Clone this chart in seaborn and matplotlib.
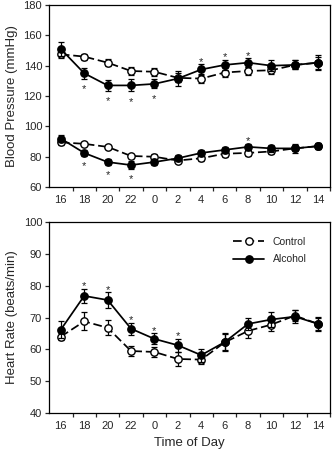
import numpy as np
import pandas as pd
import matplotlib
matplotlib.use("Agg")
import matplotlib.pyplot as plt
import seaborn as sns

# time of day labels (2 h bins)
times = ['16', '18', '20', '22', '0', '2', '4', '6', '8', '10', '12', '14']

# blood pressure, systolic
sys_ctrl = [147.5, 146, 142, 136.5, 136, 132, 131.5, 135.5, 136.5, 137, 140.5, 142]
sys_ctrl_se = [2.5, 2, 2.5, 2.5, 2.5, 3, 3, 3, 2.5, 2.5, 3, 4]
sys_alc = [151, 135, 127, 127, 128, 131.5, 137.5, 140.5, 142, 140, 140.5, 142]
sys_alc_se = [4.5, 3.5, 3.5, 4, 3, 5, 3.5, 3.5, 3, 3.5, 3, 5]
# blood pressure, diastolic
dia_ctrl = [89.5, 88.5, 86.5, 80.5, 80, 77.5, 79, 82, 82.5, 83.5, 85.5, 87]
dia_ctrl_se = [2, 1.5, 1.5, 1.5, 2, 1.5, 2, 2, 2, 2, 2, 2]
dia_alc = [92, 82.5, 76.5, 74.5, 76.5, 79, 82.5, 84.5, 86.5, 85.5, 85.5, 87]
dia_alc_se = [2.5, 2, 2, 2.5, 2, 2, 2, 2, 2, 2.5, 3, 2]
# heart rate
hr_ctrl = [64, 68.8, 66.8, 59.5, 59.2, 57, 56.8, 62.2, 65.8, 67.8, 70.6, 68]
hr_ctrl_se = [1.2, 2.8, 2.4, 1.6, 1.6, 2.3, 1.3, 2.5, 2.3, 2.0, 1.8, 1.8]
hr_alc = [66.2, 76.8, 75.5, 66.5, 63.3, 61.3, 58.2, 62.3, 68, 69.4, 70.3, 68]
hr_alc_se = [2.7, 2.3, 2.5, 1.9, 1.7, 2.1, 2.0, 2.7, 1.8, 2.3, 2.0, 2.1]

# significance stars (index, direction)
sys_stars = [(1, -1), (2, -1), (3, -1), (4, -1), (6, 1), (7, 1), (8, 1)]
dia_stars = [(1, -1), (2, -1), (3, -1), (8, 1)]
hr_stars = [(1, 1), (2, 1), (3, 1), (4, 1), (5, 1)]

sns.set_style("ticks")
plt.rcParams['font.family'] = ['Liberation Sans', 'DejaVu Sans']

fig = plt.figure(figsize=(3.34, 4.53), dpi=100)
ax1 = fig.add_axes([0.147, 0.587, 0.841, 0.402])
ax2 = fig.add_axes([0.147, 0.088, 0.841, 0.422])

x = np.arange(len(times))
dash = (0, (5, 2.2))


def draw(ax, mean, se, filled, label=None):
    df = pd.DataFrame({'x': x, 'y': mean})
    ax.errorbar(x, mean, yerr=se, fmt='none', ecolor='black', elinewidth=0.9,
                capsize=2, capthick=0.9, zorder=3 if filled else 2)
    sns.lineplot(data=df, x='x', y='y', ax=ax, color='black', lw=1.25,
                 linestyle='-' if filled else dash, marker='o', markersize=5.3,
                 markerfacecolor='black' if filled else 'white',
                 markeredgecolor='black', markeredgewidth=1.0,
                 zorder=4 if filled else 3, label=label)


def stars(ax, mean, se, lst, off):
    for i, d in lst:
        y = mean[i] + d * se[i]
        ax.annotate('*', (x[i], y), xytext=(0, d * off - 2.8),
                    textcoords='offset points', ha='center', va='center',
                    fontsize=8)


draw(ax1, sys_ctrl, sys_ctrl_se, False)
draw(ax1, sys_alc, sys_alc_se, True)
draw(ax1, dia_ctrl, dia_ctrl_se, False)
draw(ax1, dia_alc, dia_alc_se, True)
stars(ax1, sys_alc, sys_alc_se, sys_stars, 4.5)
stars(ax1, dia_alc, dia_alc_se, dia_stars, 4.5)

draw(ax2, hr_ctrl, hr_ctrl_se, False, 'Control')
draw(ax2, hr_alc, hr_alc_se, True, 'Alcohol')
stars(ax2, hr_alc, hr_alc_se, hr_stars, 4.5)

for ax, lim, step, lab in [(ax1, (60, 180), 20, 'Blood Pressure (mmHg)'),
                           (ax2, (40, 100), 10, 'Heart Rate (beats/min)')]:
    ax.set_xlim(-0.5, 11.5)
    ax.set_ylim(*lim)
    ax.set_yticks(np.arange(lim[0], lim[1] + 1, step))
    ax.set_xticks(x)
    ax.set_xticklabels(times)
    ax.set_xticks(np.arange(0.5, 11.6, 1), minor=True)
    ax.tick_params(axis='x', which='major', length=0, pad=6, labelsize=8)
    ax.tick_params(axis='x', which='minor', length=3, width=0.9, direction='out')
    ax.tick_params(axis='y', length=3, width=0.9, labelsize=8, pad=2)
    ax.set_ylabel(lab, fontsize=9.5, labelpad=4)
    ax.set_xlabel('')
    for s in ax.spines.values():
        s.set_linewidth(0.9)
        s.set_color('black')

ax2.set_xlabel('Time of Day', fontsize=9.5, labelpad=4)
ax2.legend(loc='upper right', bbox_to_anchor=(0.95, 0.97), frameon=False,
           fontsize=7.5, handlelength=3, handletextpad=0.8, labelspacing=0.7)

fig.savefig('out.png', dpi=100)
